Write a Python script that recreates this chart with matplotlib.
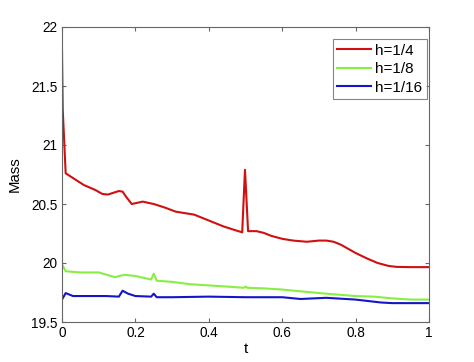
import matplotlib
matplotlib.use("Agg")
import matplotlib.pyplot as plt

plt.rcParams['font.family'] = ['Liberation Sans', 'DejaVu Sans']

t_red = [0.0, 0.002, 0.01, 0.03, 0.06, 0.09, 0.11, 0.125, 0.14, 0.155, 0.165, 0.175, 0.19, 0.205, 0.22,
         0.25, 0.28, 0.31, 0.36, 0.40, 0.44, 0.47, 0.491, 0.4986, 0.507, 0.53, 0.55, 0.57,
         0.60, 0.63, 0.667, 0.70, 0.72, 0.74, 0.76, 0.78, 0.80, 0.83, 0.86, 0.89, 0.912, 0.95, 1.0]
m_red = [21.80, 21.30, 20.76, 20.72, 20.66, 20.62, 20.585, 20.58, 20.595, 20.61, 20.605, 20.56, 20.50, 20.51, 20.52,
         20.50, 20.47, 20.435, 20.41, 20.36, 20.31, 20.28, 20.26, 20.79, 20.27, 20.27, 20.255, 20.23,
         20.205, 20.19, 20.18, 20.19, 20.19, 20.18, 20.155, 20.12, 20.085, 20.04, 20.0, 19.975, 19.967, 19.965, 19.965]

t_green = [0.0, 0.01, 0.05, 0.10, 0.144, 0.17, 0.20, 0.243, 0.25, 0.258, 0.30, 0.35, 0.40, 0.45,
           0.495, 0.50, 0.505, 0.55, 0.60, 0.65, 0.72, 0.80, 0.85, 0.90, 0.95, 1.0]
m_green = [19.99, 19.93, 19.92, 19.92, 19.88, 19.90, 19.89, 19.86, 19.91, 19.85, 19.84, 19.82, 19.81, 19.80,
           19.79, 19.80, 19.79, 19.785, 19.775, 19.76, 19.74, 19.72, 19.715, 19.70, 19.69, 19.69]

t_blue = [0.0, 0.01, 0.03, 0.08, 0.12, 0.155, 0.165, 0.18, 0.20, 0.243, 0.25, 0.258, 0.30, 0.40,
          0.50, 0.60, 0.65, 0.72, 0.80, 0.87, 0.90, 0.95, 1.0]
m_blue = [19.69, 19.745, 19.72, 19.72, 19.72, 19.715, 19.765, 19.74, 19.72, 19.715, 19.74, 19.71, 19.71, 19.715,
          19.71, 19.71, 19.695, 19.705, 19.69, 19.665, 19.66, 19.66, 19.66]

labels = ['h=1/4', 'h=1/8', 'h=1/16']
colors = ['#d01010', '#88ee44', '#1515c8']

fig = plt.figure(figsize=(4.74, 3.62), dpi=100)
ax = fig.add_axes([62/474, 1 - 322/362, (429-62)/474, (322-27)/362])

ax.plot(t_red, m_red, color=colors[0], lw=1.5, label=labels[0])
ax.plot(t_green, m_green, color=colors[1], lw=1.5, label=labels[1])
ax.plot(t_blue, m_blue, color=colors[2], lw=1.5, label=labels[2])

ax.set_xlim(0, 1)
ax.set_ylim(19.5, 22)
ax.set_xticks([0, 0.2, 0.4, 0.6, 0.8, 1])
ax.set_xticklabels(['0', '0.2', '0.4', '0.6', '0.8', '1'])
ax.set_yticks([19.5, 20, 20.5, 21, 21.5, 22])
ax.set_yticklabels(['19.5', '20', '20.5', '21', '21.5', '22'])
ax.tick_params(direction='in', top=True, right=True, length=3, width=0.8,
               color='#666666', labelsize=9.8, pad=3)
for s in ax.spines.values():
    s.set_color('#666666')
    s.set_linewidth(0.8)

ax.set_xlabel('t', fontsize=11, labelpad=1)
ax.set_ylabel('Mass', fontsize=10.8, labelpad=7)

leg = ax.legend(loc='upper right', bbox_to_anchor=(0.9946, 0.959), borderaxespad=0,
                fontsize=11, frameon=True, fancybox=False,
                edgecolor='#666666', handlelength=2.2,
                handletextpad=0.3, labelspacing=0.3, borderpad=0.3)
leg.get_frame().set_linewidth(0.8)

fig.savefig('out.png', dpi=100)
